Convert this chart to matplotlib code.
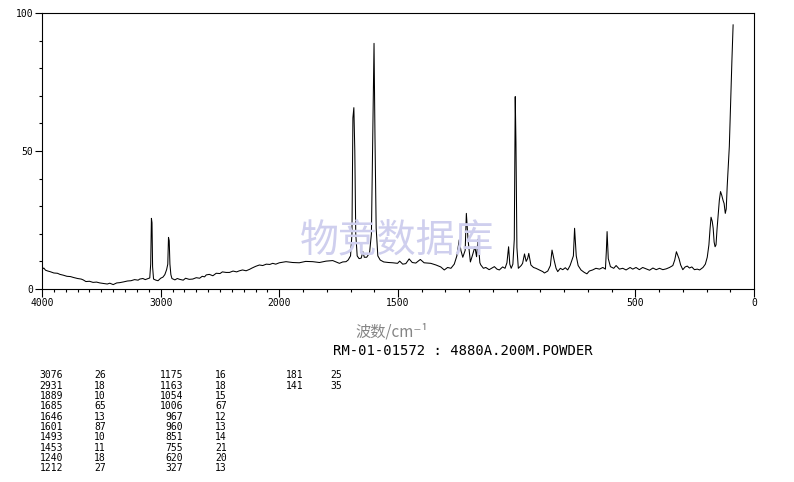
import numpy as np
import matplotlib
matplotlib.use('Agg')
import matplotlib.pyplot as plt
from matplotlib.ticker import FixedLocator, FixedFormatter, NullFormatter

# ---------------- data ----------------
wavenumber = [
    4000, 3985, 3970, 3950, 3933, 3900, 3870, 3849, 3820, 3790, 3760, 3737, 3700,
    3670, 3653, 3630, 3600, 3570, 3540, 3513, 3480, 3450, 3429, 3400, 3370, 3345,
    3310, 3280, 3250, 3220, 3190, 3176, 3150, 3130, 3110, 3092, 3084, 3078, 3073,
    3068, 3060, 3040, 3022, 3000, 2981, 2965, 2950, 2940, 2934, 2928, 2922, 2914,
    2905, 2880, 2860, 2840, 2810, 2790, 2760, 2730, 2700, 2672, 2650, 2630, 2616,
    2590, 2560, 2532, 2500, 2480, 2448, 2420, 2390, 2360, 2336, 2310, 2280, 2252,
    2230, 2200, 2168, 2140, 2110, 2080, 2056, 2030, 2000, 1972, 1944, 1916, 1889,
    1859, 1831, 1803, 1775, 1761, 1747, 1733, 1719, 1710, 1700, 1694, 1690, 1686,
    1682, 1678, 1672, 1664, 1655, 1648, 1642, 1632, 1620, 1612, 1605, 1601, 1597,
    1592, 1585, 1575, 1560, 1540, 1522, 1502, 1493, 1480, 1467, 1453, 1440, 1425,
    1406, 1390, 1362, 1340, 1320, 1305, 1291, 1277, 1263, 1252, 1242, 1235, 1227,
    1217, 1212, 1205, 1195, 1186, 1176, 1169, 1163, 1155, 1151, 1140, 1130, 1116,
    1094, 1083, 1073, 1059, 1049, 1041, 1034, 1029, 1023, 1016, 1010, 1006, 1003,
    999, 993, 981, 975, 967, 960, 954, 949, 940, 929, 919, 904, 890, 883, 869, 858,
    851, 841, 834, 827, 816, 806, 795, 785, 775, 767, 761, 756, 749, 741, 729, 715,
    704, 694, 680, 666, 651, 637, 626, 622, 619, 614, 605, 591, 581, 567, 553, 539,
    522, 511, 497, 483, 469, 455, 440, 426, 412, 398, 384, 370, 356, 342, 334, 327,
    316, 309, 300, 290, 281, 272, 262, 251, 239, 229, 215, 205, 197, 190, 185, 181,
    176, 172, 168, 164, 160, 156, 150, 146, 141, 136, 130, 126, 121, 117, 113, 108,
    104, 99, 93, 88,
]
intensity = [
    7.1, 7.6, 6.8, 6.5, 6.3, 5.8, 5.7, 5.3, 5.0, 4.6, 4.5, 4.2, 3.8,
    3.6, 3.3, 2.7, 2.8, 2.4, 2.5, 2.2, 2.0, 1.8, 2.1, 1.6, 2.2, 2.3,
    2.6, 2.9, 3.0, 3.4, 3.2, 3.6, 3.8, 3.4, 3.7, 4.0, 9.0, 25.6, 24.0,
    8.0, 3.6, 3.2, 3.0, 3.9, 4.3, 5.2, 7.0, 9.0, 18.7, 17.5, 9.0, 5.2,
    3.8, 3.3, 3.8, 3.5, 3.2, 3.9, 3.5, 3.6, 4.1, 3.9, 4.6, 4.4, 5.1,
    5.3, 4.8, 5.7, 5.6, 6.2, 6.0, 6.0, 6.5, 6.2, 6.6, 6.9, 6.6, 7.1,
    7.6, 8.2, 8.7, 8.5, 9.0, 8.9, 9.3, 9.0, 9.5, 9.9, 9.6, 9.5, 10.0,
    9.9, 9.6, 10.1, 10.3, 9.8, 9.3, 9.8, 9.9, 10.5, 12.0, 20.0, 62.0, 65.7,
    50.0, 20.0, 12.0, 11.0, 11.2, 13.5, 11.5, 11.5, 13.0, 20.0, 63.0, 89.0, 55.0,
    22.0, 12.0, 10.5, 9.8, 9.6, 9.5, 9.3, 10.1, 9.0, 9.2, 10.9, 9.6, 9.4,
    10.7, 9.5, 9.3, 8.7, 8.0, 6.9, 7.8, 7.5, 9.0, 12.0, 17.8, 14.0, 11.5,
    14.0, 27.4, 18.0, 9.8, 12.3, 15.3, 11.7, 18.0, 9.5, 8.7, 7.5, 7.8, 7.0,
    8.1, 7.2, 6.9, 8.0, 7.5, 9.5, 15.3, 9.0, 7.5, 9.0, 18.0, 69.7, 53.0,
    15.0, 7.5, 8.5, 9.3, 12.7, 10.0, 11.0, 12.9, 8.7, 7.8, 7.5, 6.9, 6.3, 5.8, 6.5, 8.5,
    14.1, 10.0, 7.5, 6.3, 7.5, 7.0, 7.7, 6.9, 8.5, 10.5, 12.0, 22.0, 12.0, 8.5, 6.9, 6.0,
    5.5, 6.5, 6.9, 7.5, 7.2, 7.8, 7.2, 14.0, 20.8, 11.0, 8.1, 7.5, 8.5, 7.2, 7.5, 6.9,
    7.8, 7.2, 7.8, 7.0, 7.8, 7.3, 6.8, 7.6, 7.0, 7.5, 7.0, 7.3, 7.8, 8.5, 10.5, 13.5,
    11.0, 8.7, 7.0, 8.0, 8.3, 7.6, 8.0, 7.0, 7.2, 6.9, 7.8, 9.0, 11.5, 16.0, 22.0, 26.0,
    24.5, 22.0, 17.0, 15.3, 16.0, 21.4, 28.0, 32.2, 35.3, 34.0, 32.0, 31.0, 27.4, 29.0, 37.1, 45.0,
    51.6, 66.0, 83.0, 95.7,
]

x_ticks = [4000, 3000, 2000, 1500, 500, 0]
x_tick_labels = ['4000', '3000', '2000', '1500', '500', '0']
y_ticks = [0, 50, 100]
y_tick_labels = ['0', '50', '100']

peak_col1_pos = ['3076', '2931', '1889', '1685', '1646', '1601', '1493', '1453', '1240', '1212']
peak_col1_int = ['26', '18', '10', '65', '13', '87', '10', '11', '18', '27']
peak_col2_pos = ['1175', '1163', '1054', '1006', '967', '960', '851', '755', '620', '327']
peak_col2_int = ['16', '18', '15', '67', '12', '13', '14', '21', '20', '13']
peak_col3_pos = ['181', '141']
peak_col3_int = ['25', '35']

x_label = '波数/cm⁻¹'
title_text = 'RM-01-01572 : 4880A.200M.POWDER'
watermark = '物竞数据库'

# ---------------- figure ----------------
W, H = 794, 482
fig = plt.figure(figsize=(W / 100, H / 100), dpi=100)
fig.patch.set_facecolor('white')

L, R, T, B = 42, 754, 13, 289
ax = fig.add_axes([L / W, 1 - B / H, (R - L) / W, (B - T) / H])


def fwd(w):
    w = np.asarray(w, dtype=float)
    return np.where(w > 2000, 2000 + (w - 2000) / 2.0, w)


def inv(p):
    p = np.asarray(p, dtype=float)
    return np.where(p > 2000, 2000 + (p - 2000) * 2.0, p)


ax.set_xscale('function', functions=(fwd, inv))

# watermark behind the spectrum
fig.text(397 / W, 1 - 241 / H, watermark, fontsize=28, color='#cfcfee',
         family=['Noto Sans CJK SC', 'DejaVu Sans'], ha='center', va='center', zorder=0)
ax.patch.set_alpha(0)

ax.plot(wavenumber, intensity, color='black', linewidth=0.75, zorder=3)

ax.set_xlim(4000, 0)
ax.set_ylim(0, 100)

ax.xaxis.set_major_locator(FixedLocator(x_ticks))
ax.xaxis.set_major_formatter(FixedFormatter(x_tick_labels))
ax.xaxis.set_minor_locator(FixedLocator(list(range(0, 4001, 100))))
ax.xaxis.set_minor_formatter(NullFormatter())

ax.yaxis.set_major_locator(FixedLocator(y_ticks))
ax.yaxis.set_major_formatter(FixedFormatter(y_tick_labels))
ax.yaxis.set_minor_locator(FixedLocator(list(range(0, 101, 10))))
ax.yaxis.set_minor_formatter(NullFormatter())

ax.tick_params(which='major', direction='out', length=5.4, width=0.8, pad=1,
               labelsize=7, colors='black')
ax.tick_params(which='minor', direction='out', length=2.0, width=0.8)
for lab in ax.get_xticklabels() + ax.get_yticklabels():
    lab.set_family('DejaVu Sans Mono')

for s in ax.spines.values():
    s.set_linewidth(0.8)
    s.set_color('black')

# axis label and title
fig.text(355 / W, 1 - 332 / H, x_label, fontsize=11, color='#858585',
         family=['Noto Sans CJK SC', 'DejaVu Sans'], ha='left', va='center')
fig.text(333 / W, 1 - 351 / H, title_text, fontsize=10, color='black',
         family='DejaVu Sans Mono', ha='left', va='center')

# peak table
row0, dy = 375.5, 10.3
tab_font = dict(fontsize=7, color='black', family='DejaVu Sans Mono', va='center')


def put_col(values, x, ha):
    for i, v in enumerate(values):
        fig.text(x / W, 1 - (row0 + i * dy) / H, v, ha=ha, **tab_font)


put_col(peak_col1_pos, 63, 'right')
put_col(peak_col1_int, 94, 'left')
put_col(peak_col2_pos, 183, 'right')
put_col(peak_col2_int, 215, 'left')
put_col(peak_col3_pos, 303, 'right')
put_col(peak_col3_int, 330, 'left')

fig.savefig('out.png', dpi=100, facecolor='white')
